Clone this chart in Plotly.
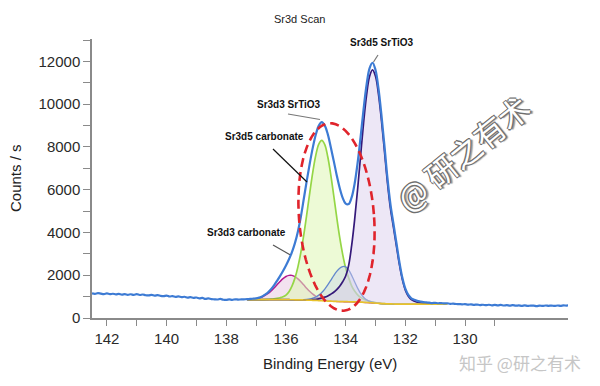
import math
import plotly.graph_objects as go

# ---------------- data ----------------
# measured spectrum, binding energy from 142.5 eV down to 126.5 eV in 0.1 eV steps
DATA_BE = [round(142.5 - 0.1 * i, 1) for i in range(161)]
DATA_CPS = [
    1150, 1130, 1165, 1140, 1120, 1150, 1115, 1135, 1105, 1130,
    1095, 1120, 1085, 1110, 1080, 1115, 1075, 1100, 1065, 1055,
    1085, 1045, 1070, 1035, 1025, 1050, 1005, 1025, 990, 1010,
    975, 995, 955, 975, 940, 960, 920, 940, 895, 915,
    885, 875, 865, 890, 855, 845, 870, 850, 875, 860,
    870, 875, 880, 890, 905, 920, 955, 1005, 1095, 1200,
    1350, 1530, 1740, 1960, 2200, 2460, 2750, 3080, 3500, 4050,
    4750, 5600, 6450, 7250, 7980, 8580, 9000, 9160, 9000, 8600,
    8000, 7350, 6680, 6080, 5620, 5350, 5330, 5640, 6280, 7250,
    8460, 9760, 10900, 11680, 11940, 11600, 10730, 9480, 8050, 6550,
    5330, 4420, 3520, 2620, 1880, 1370, 1080, 920, 850, 800,
    770, 745, 730, 715, 700, 710, 690, 700, 680, 690,
    665, 670, 655, 650, 640, 645, 625, 640, 615, 630,
    605, 620, 600, 620, 595, 610, 590, 610, 585, 600,
    580, 600, 575, 590, 570, 590, 565, 580, 575, 560,
    580, 565, 585, 570, 580, 565, 585, 570, 590, 580,
    595,
]

# fitted components (binding energy grid of the fit region)
FIT_BE = [137.3, 137.0, 136.8, 136.6, 136.5, 136.4, 136.3, 136.2, 136.1, 136.0,
          135.9, 135.8, 135.7, 135.6, 135.5, 135.4, 135.3, 135.2, 135.1, 135.0,
          134.9, 134.8, 134.7, 134.6, 134.5, 134.4, 134.3, 134.2, 134.1, 134.0,
          133.9, 133.8, 133.7, 133.6, 133.5, 133.4, 133.3, 133.2, 133.1, 133.0,
          132.9, 132.8, 132.7, 132.6, 132.5, 132.4, 132.3, 132.2, 132.1, 132.0,
          131.9, 131.8, 131.6, 131.4, 131.2, 131.0, 130.8, 130.6]

BASELINE = [860, 860, 860, 860, 860, 859, 859, 858, 857, 856,
            855, 854, 852, 849, 846, 843, 839, 835, 829, 822,
            815, 808, 800, 793, 786, 780, 775, 770, 766, 763,
            760, 756, 752, 747, 741, 735, 726, 717, 707, 696,
            686, 676, 668, 662, 658, 654, 652, 651, 650, 650,
            650, 650, 650, 650, 650, 650, 650, 650]

SR3D3_CARBONATE = [866, 904, 984, 1146, 1264, 1402, 1554, 1705, 1839, 1940,
                   1994, 1993, 1936, 1831, 1693, 1538, 1382, 1239, 1115, 1015,
                   939, 884, 844, 817, 799, 786, 777, 770, 766, 763,
                   760, 756, 752, 747, 741, 735, 726, 717, 707, 696,
                   686, 676, 668, 662, 658, 654, 652, 651, 650, 650,
                   650, 650, 650, 650, 650, 650, 650, 650]

SR3D5_CARBONATE = [860, 860, 860, 875, 883, 897, 919, 948, 992, 1074,
                   1230, 1492, 1865, 2394, 3081, 3926, 4882, 5890, 6837, 7617,
                   8135, 8308, 8113, 7543, 6711, 5730, 4713, 3770, 2979, 2338,
                   1885, 1506, 1262, 1085, 966, 885, 824, 777, 745, 719,
                   694, 676, 668, 662, 658, 654, 652, 651, 650, 650,
                   650, 650, 650, 650, 650, 650, 650, 650]

SR3D3_SRTIO3 = [860, 860, 860, 860, 860, 859, 859, 858, 857, 856,
                855, 854, 852, 849, 852, 858, 869, 889, 925, 982,
                1070, 1194, 1354, 1548, 1764, 1983, 2179, 2327, 2406, 2395,
                2248, 1995, 1693, 1399, 1153, 973, 851, 777, 740, 713,
                694, 676, 668, 662, 658, 654, 652, 651, 650, 650,
                650, 650, 650, 650, 650, 650, 650, 650]

SR3D5_SRTIO3 = [860, 860, 860, 860, 860, 859, 859, 858, 857, 856,
                855, 854, 852, 849, 846, 843, 842, 848, 856, 868,
                893, 939, 974, 1033, 1113, 1205, 1331, 1489, 1693, 1962,
                2460, 3383, 4589, 6023, 7586, 9128, 10427, 11301, 11607, 11302,
                10463, 9233, 7808, 6330, 5127, 4251, 3377, 2504, 1795, 1304,
                1021, 868, 737, 683, 661, 650, 650, 650]

X_TICKS = [142, 141, 140, 139, 138, 137, 136, 135, 134, 133, 132, 131, 130, 129]
X_TICK_TEXT = ["142", "", "140", "", "138", "", "136", "", "134", "", "132", "", "130", ""]
Y_TICKS = [0, 1000, 2000, 3000, 4000, 5000, 6000, 7000, 8000, 9000, 10000, 11000, 12000, 13000]
Y_TICK_TEXT = ["0", "", "2000", "", "4000", "", "6000", "", "8000", "", "10000", "", "12000", ""]

X_RANGE = [142.5, 126.55]
Y_RANGE = [0, 13050]

# ---------------- figure ----------------
W, H = 600, 386
PAGE_OFF = 8                       # default body margin of the html page
# plot box in screen pixels
SL, ST, SR_, SB = 92, 39, 568, 318
PW, PH = SR_ - SL, SB - ST
ML, MT = SL - PAGE_OFF, ST - PAGE_OFF
MR, MB = W - ML - PW, H - MT - PH
FONT = "Arial, Liberation Sans, sans-serif"

fig = go.Figure()

components = [
    (SR3D3_CARBONATE, "#b3188f", "rgba(228,190,222,0.45)", 1.5),
    (SR3D5_CARBONATE, "#95d646", "rgba(222,245,180,0.55)", 1.7),
    (SR3D3_SRTIO3, "#6388cc", "rgba(196,210,238,0.40)", 1.3),
    (SR3D5_SRTIO3, "#35197a", "rgba(214,202,236,0.45)", 1.7),
]
for vals, lc, fc, lw in components:
    fig.add_trace(go.Scatter(x=FIT_BE, y=BASELINE, mode="lines",
                             line=dict(width=0, color="rgba(0,0,0,0)"),
                             line_shape="spline", hoverinfo="skip", showlegend=False))
    fig.add_trace(go.Scatter(x=FIT_BE, y=vals, mode="lines", fill="tonexty",
                             fillcolor=fc, line=dict(color=lc, width=lw),
                             line_shape="spline", showlegend=False))

fig.add_trace(go.Scatter(x=FIT_BE, y=BASELINE, mode="lines",
                         line=dict(color="#e8c22c", width=1.7),
                         line_shape="spline", showlegend=False))
fig.add_trace(go.Scatter(x=DATA_BE, y=DATA_CPS, mode="lines",
                         line=dict(color="#3d7bd4", width=2.2),
                         line_shape="spline", showlegend=False))


def px_to_be(px):
    return X_RANGE[0] + (px - SL) / PW * (X_RANGE[1] - X_RANGE[0])


def py_to_cps(py):
    return Y_RANGE[0] + (SB - py) / PH * (Y_RANGE[1] - Y_RANGE[0])


def paper_x(px):
    return (px - SL) / PW


def paper_y(py):
    return (SB - py) / PH


# dashed ellipse (pixel geometry of the hand-drawn highlight)
cx, cy, rx, ry, phi = 336.5, 217.0, 37.5, 94.0, math.radians(4.5)
pts = []
for k in range(73):
    t = 2 * math.pi * k / 72
    X = cx + rx * math.cos(t) * math.cos(phi) - ry * math.sin(t) * math.sin(phi)
    Yu = rx * math.cos(t) * math.sin(phi) + ry * math.sin(t) * math.cos(phi)
    pts.append((px_to_be(X), py_to_cps(cy - Yu)))
path = "M " + " L ".join(f"{a:.4f},{b:.1f}" for a, b in pts) + " Z"
fig.add_shape(type="path", path=path, xref="x", yref="y",
              line=dict(color="#e0242c", width=2.6, dash="9px,5px"))

# label leader lines (pixel endpoints)
leaders = [
    ((373.5, 62.0), (378.0, 55.0), "#777777"),
    ((288.0, 114.0), (320.0, 119.5), "#777777"),
    ((273.0, 149.0), (307.0, 182.0), "#111111"),
    ((273.0, 245.0), (290.0, 254.7), "#555555"),
]
for (x0, y0), (x1, y1), c in leaders:
    fig.add_shape(type="line", xref="x", yref="y",
                  x0=px_to_be(x0), y0=py_to_cps(y0), x1=px_to_be(x1), y1=py_to_cps(y1),
                  line=dict(color=c, width=1.2))

CENTER = dict(xanchor="center", yanchor="middle", showarrow=False)

labels = [
    ("Sr3d5 SrTiO3", 382.0, 42.5),
    ("Sr3d3 SrTiO3", 289.0, 104.3),
    ("Sr3d5 carbonate", 264.0, 136.0),
    ("Sr3d3 carbonate", 246.5, 232.3),
]
for txt, x, y in labels:
    fig.add_annotation(text=f"<b>{txt}</b>", x=px_to_be(x), y=py_to_cps(y),
                       xref="x", yref="y", **CENTER,
                       font=dict(family=FONT, size=10, color="#111111"))

# title and axis titles
fig.add_annotation(text="Sr3d Scan", xref="paper", yref="paper",
                   x=paper_x(299), y=paper_y(19.3), **CENTER,
                   font=dict(family=FONT, size=11, color="#222222"))
fig.add_annotation(text="Counts / s", xref="paper", yref="paper",
                   x=paper_x(15), y=paper_y(178), **CENTER,
                   textangle=-90, font=dict(family=FONT, size=15, color="#222222"))
fig.add_annotation(text="Binding Energy (eV)", xref="paper", yref="paper",
                   x=paper_x(330), y=paper_y(363), **CENTER,
                   font=dict(family=FONT, size=15, color="#222222"))

# watermarks
fig.add_annotation(text="@ 研之有术", xref="paper", yref="paper",
                   x=paper_x(462), y=paper_y(152), **CENTER,
                   textangle=-39,
                   font=dict(family="Noto Sans CJK SC", size=31, color="#ffffff",
                             shadow="1px 1px 0 #6e6e6e, -1px -1px 0 #6e6e6e, 1px -1px 0 #6e6e6e, -1px 1px 0 #6e6e6e, 2px 2px 1px #a0a0a0"))
fig.add_annotation(text="知乎 @研之有术", xref="paper", yref="paper",
                   x=paper_x(520), y=paper_y(362), **CENTER,
                   font=dict(family="Noto Sans CJK SC", size=17, color="#c6c6c6"))

axis_common = dict(showline=True, linecolor="#8a8a8a", linewidth=1.5, ticks="outside",
                   tickcolor="#8a8a8a", tickwidth=1.3, showgrid=False, zeroline=False,
                   tickfont=dict(family=FONT, size=15, color="#2a2a2a"))
fig.update_layout(
    width=W, height=H,
    margin=dict(l=ML, r=MR, t=MT, b=MB, autoexpand=False),
    paper_bgcolor="white", plot_bgcolor="white",
    showlegend=False,
    xaxis=dict(range=X_RANGE, tickmode="array", tickvals=X_TICKS, ticktext=X_TICK_TEXT,
               ticklen=6, **axis_common),
    yaxis=dict(range=Y_RANGE, tickmode="array", tickvals=Y_TICKS, ticktext=Y_TICK_TEXT,
               ticklen=7, **axis_common),
)

fig.write_html("out.html")
